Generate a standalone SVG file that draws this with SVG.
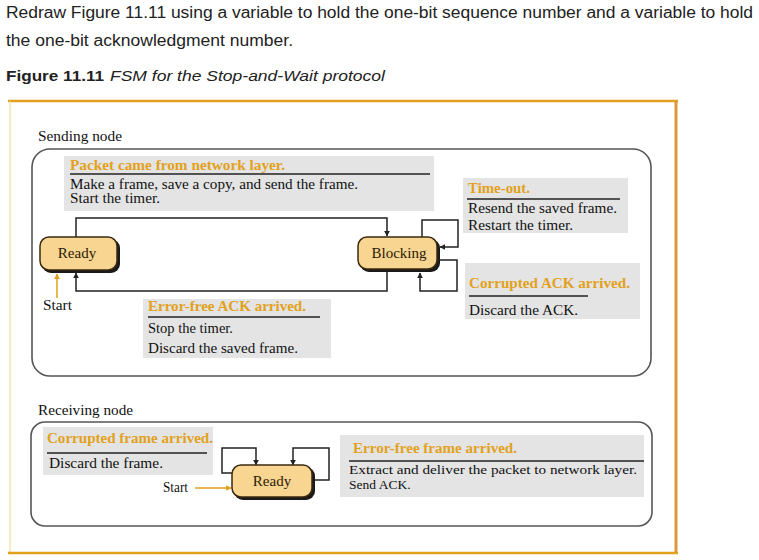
<svg xmlns="http://www.w3.org/2000/svg" width="759" height="560" viewBox="0 0 759 560">
<defs>
<style>
.hdr{font-family:"Liberation Sans",Arial,sans-serif;font-size:16px;fill:#222}
.t{font-family:"Liberation Serif","Times New Roman",serif;font-size:14px;fill:#111}
.o{font-family:"Liberation Serif","Times New Roman",serif;font-size:14px;font-weight:bold;fill:#e2a11c}
.n{font-family:"Liberation Serif","Times New Roman",serif;font-size:15px;fill:#2a1a08;text-anchor:middle}
.gb{fill:#e4e4e4}
.ul{stroke:#222;stroke-width:1.6}
.node{fill:#f8d590;stroke:#3a2a10;stroke-width:1.5}
.sh{fill:#1a1a1a}
.frame{fill:none;stroke:#555;stroke-width:1.6}
.c{fill:none;stroke:#222;stroke-width:1.5}
.s{fill:none;stroke:#e2a11c;stroke-width:1.5}
</style>
<marker id="ah" viewBox="0 0 10 10" refX="9" refY="5" markerWidth="6" markerHeight="6" orient="auto" markerUnits="userSpaceOnUse"><path d="M0,0 L10,5 L0,10 z" fill="#222"/></marker>
<marker id="aho" viewBox="0 0 10 10" refX="9" refY="5" markerWidth="6" markerHeight="6" orient="auto" markerUnits="userSpaceOnUse"><path d="M0,0 L10,5 L0,10 z" fill="#e2a11c"/></marker>
</defs>
<rect width="759" height="560" fill="#fff"/>
<text class="hdr" x="6" y="18" textLength="747" lengthAdjust="spacingAndGlyphs">Redraw Figure 11.11 using a variable to hold the one-bit sequence number and a variable to hold</text>
<text class="hdr" x="6" y="46" textLength="287" lengthAdjust="spacingAndGlyphs">the one-bit acknowledgment number.</text>
<text class="hdr" x="6" y="81" style="font-size:15px"><tspan font-weight="bold" textLength="98" lengthAdjust="spacingAndGlyphs">Figure 11.11</tspan><tspan x="110" font-style="italic" textLength="275" lengthAdjust="spacingAndGlyphs">FSM for the Stop-and-Wait protocol</tspan></text>
<g id="outer-frame">
<line x1="8" y1="101" x2="678" y2="101" stroke="#e2a11c" stroke-width="2.5"/>
<line x1="10" y1="101" x2="10" y2="553" stroke="#f0dc9a" stroke-width="1.2"/>
<line x1="676" y1="101" x2="676" y2="554" stroke="#e0953a" stroke-width="3"/>
<line x1="8" y1="553" x2="678" y2="553" stroke="#e2a11c" stroke-width="2.5"/>
</g>
<g id="sending-node">
<text class="t" x="38" y="141" style="font-size:15px" textLength="84" lengthAdjust="spacingAndGlyphs">Sending node</text>
<rect class="frame" x="32" y="149" width="619" height="227" rx="18"/>
</g>
<g id="receiving-node">
<text class="t" x="38" y="415" style="font-size:15px" textLength="95" lengthAdjust="spacingAndGlyphs">Receiving node</text>
<rect class="frame" x="31" y="422" width="621" height="104" rx="14"/>
</g>
<g id="connectors">
<polyline class="c" points="76,237 76,218 387,218 387,236" marker-end="url(#ah)"/>
<polyline class="c" points="387,271 387,291 76,291 76,273" marker-end="url(#ah)"/>
<polyline class="c" points="422,237 422,220 458,220 458,247 440,247" marker-end="url(#ah)"/>
<polyline class="c" points="439,260 457,260 457,291 420,291 420,273" marker-end="url(#ah)"/>
<line class="s" x1="57" y1="298" x2="57" y2="274" marker-end="url(#aho)"/>
<polyline class="c" points="233,473 222,473 222,448 256,448 256,465" marker-end="url(#ah)"/>
<polyline class="c" points="314,480 329,480 329,448 293,448 293,465" marker-end="url(#ah)"/>
<line class="s" x1="195" y1="488" x2="231" y2="488" marker-end="url(#aho)"/>
</g>
<g id="label-packet">
<rect class="gb" x="64" y="156" width="370" height="55"/>
<text class="o" x="70" y="170" textLength="215" lengthAdjust="spacingAndGlyphs">Packet came from network layer.</text>
<line class="ul" x1="70" y1="174" x2="430" y2="174"/>
<text class="t" x="70" y="189" textLength="288" lengthAdjust="spacingAndGlyphs">Make a frame, save a copy, and send the frame.</text>
<text class="t" x="70" y="203" textLength="90" lengthAdjust="spacingAndGlyphs">Start the timer.</text>
</g>
<g id="label-timeout">
<rect class="gb" x="463" y="178" width="165" height="55"/>
<text class="o" x="468" y="193" textLength="62" lengthAdjust="spacingAndGlyphs">Time-out.</text>
<line class="ul" x1="467" y1="199" x2="620" y2="199"/>
<text class="t" x="468" y="213" textLength="149" lengthAdjust="spacingAndGlyphs">Resend the saved frame.</text>
<text class="t" x="468" y="230" textLength="105" lengthAdjust="spacingAndGlyphs">Restart the timer.</text>
</g>
<g id="label-corrupted-ack">
<rect class="gb" x="465" y="263" width="175" height="56"/>
<text class="o" x="469" y="288" textLength="161" lengthAdjust="spacingAndGlyphs">Corrupted ACK arrived.</text>
<line class="ul" x1="469" y1="296" x2="588" y2="296"/>
<text class="t" x="469" y="315" textLength="109" lengthAdjust="spacingAndGlyphs">Discard the ACK.</text>
</g>
<g id="label-errorfree-ack">
<rect class="gb" x="143" y="299" width="188" height="59"/>
<text class="o" x="148" y="311" textLength="158" lengthAdjust="spacingAndGlyphs">Error-free ACK arrived.</text>
<line class="ul" x1="148" y1="317" x2="320" y2="317"/>
<text class="t" x="148" y="333" textLength="85" lengthAdjust="spacingAndGlyphs">Stop the timer.</text>
<text class="t" x="148" y="353" textLength="150" lengthAdjust="spacingAndGlyphs">Discard the saved frame.</text>
</g>
<g id="start-sending"><text class="t" x="43" y="310" textLength="29" lengthAdjust="spacingAndGlyphs">Start</text></g>
<g id="ready-sending">
<rect class="sh" x="42" y="239" width="78" height="34" rx="9"/>
<rect class="node" x="40" y="237" width="77" height="33" rx="9"/>
<text class="n" x="77" y="258">Ready</text>
</g>
<g id="blocking">
<rect class="sh" x="360" y="239" width="80" height="33" rx="9"/>
<rect class="node" x="358" y="237" width="79" height="32" rx="9"/>
<text class="n" x="399" y="258">Blocking</text>
</g>
<g id="label-corrupted-frame">
<rect class="gb" x="43" y="427" width="170" height="48"/>
<text class="o" x="47" y="443" textLength="166" lengthAdjust="spacingAndGlyphs">Corrupted frame arrived.</text>
<line class="ul" x1="47" y1="453" x2="207" y2="453"/>
<text class="t" x="49" y="468" textLength="114" lengthAdjust="spacingAndGlyphs">Discard the frame.</text>
</g>
<g id="label-errorfree-frame">
<rect class="gb" x="340" y="435" width="304" height="62"/>
<text class="o" x="353" y="453" textLength="164" lengthAdjust="spacingAndGlyphs">Error-free frame arrived.</text>
<line class="ul" x1="349" y1="461" x2="644" y2="461"/>
<text class="t" x="349" y="473.5" style="font-size:13px" textLength="288" lengthAdjust="spacingAndGlyphs">Extract and deliver the packet to network layer.</text>
<text class="t" x="349" y="488.5" style="font-size:13.5px">Send ACK.</text>
</g>
<g id="start-receiving"><text class="t" x="163" y="492" textLength="25" lengthAdjust="spacingAndGlyphs">Start</text></g>
<g id="ready-receiving">
<rect class="sh" x="234" y="467" width="81" height="33" rx="9"/>
<rect class="node" x="232" y="465" width="80" height="32" rx="9"/>
<text class="n" x="272" y="486">Ready</text>
</g>
</svg>
